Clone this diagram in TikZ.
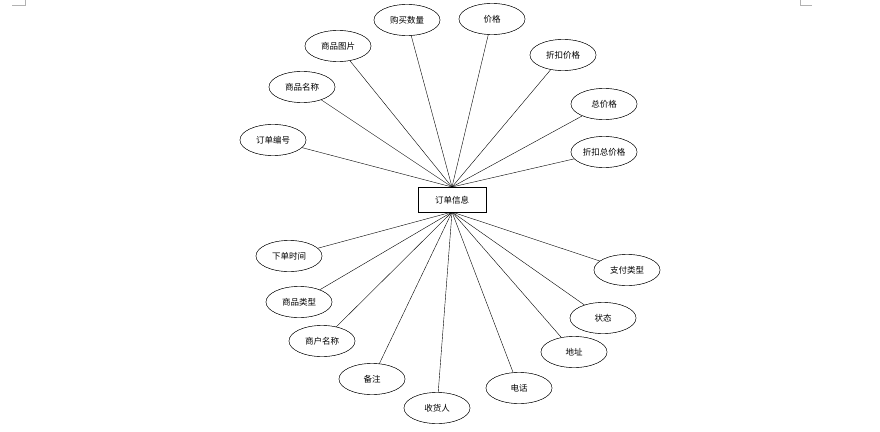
\documentclass[tikz,border=0pt]{standalone}
\usepackage{fontspec}
\setmainfont{Noto Sans CJK SC}
\usetikzlibrary{shapes.geometric}
\begin{document}
\begin{tikzpicture}[x=1pt,y=-1pt,
  attr/.style={draw,ellipse,minimum width=66pt,minimum height=31pt,inner sep=0pt,font=\fontsize{8.5}{10}\selectfont,fill=white},
  ent/.style={draw,rectangle,minimum width=68pt,minimum height=25pt,font=\fontsize{8.5}{10}\selectfont,fill=white}]
\useasboundingbox (0,0) rectangle (880,431);
\draw[gray!60] (12,5)--(25,5)--(25,0);
\draw[gray!60] (812,5)--(800,5)--(800,0);
\coordinate (t) at (452,187);
\coordinate (b) at (452,212);
\foreach \n/\x/\y/\s in {a1/407/20/购买数量,a2/492/19/价格,a3/338/46/商品图片,a4/563/55/折扣价格,a5/302/87/商品名称,a6/604/104/总价格,a7/273/140/订单编号,a8/604/152/折扣总价格}{
  \node[attr] (\n) at (\x,\y) {\s};
  \draw (t) -- (\n);
  \node[attr] at (\x,\y) {\s};
}
\foreach \n/\x/\y/\s in {b1/289/256/下单时间,b2/627/270/支付类型,b3/299/302/商品类型,b4/603/318/状态,b5/322/341/商户名称,b6/574/352/地址,b7/372/379/备注,b8/519/388/电话,b9/437/408/收货人}{
  \node[attr] (\n) at (\x,\y) {\s};
  \draw (b) -- (\n);
  \node[attr] at (\x,\y) {\s};
}
\node[ent] (e) at (452,200) {订单信息};
\end{tikzpicture}
\end{document}
